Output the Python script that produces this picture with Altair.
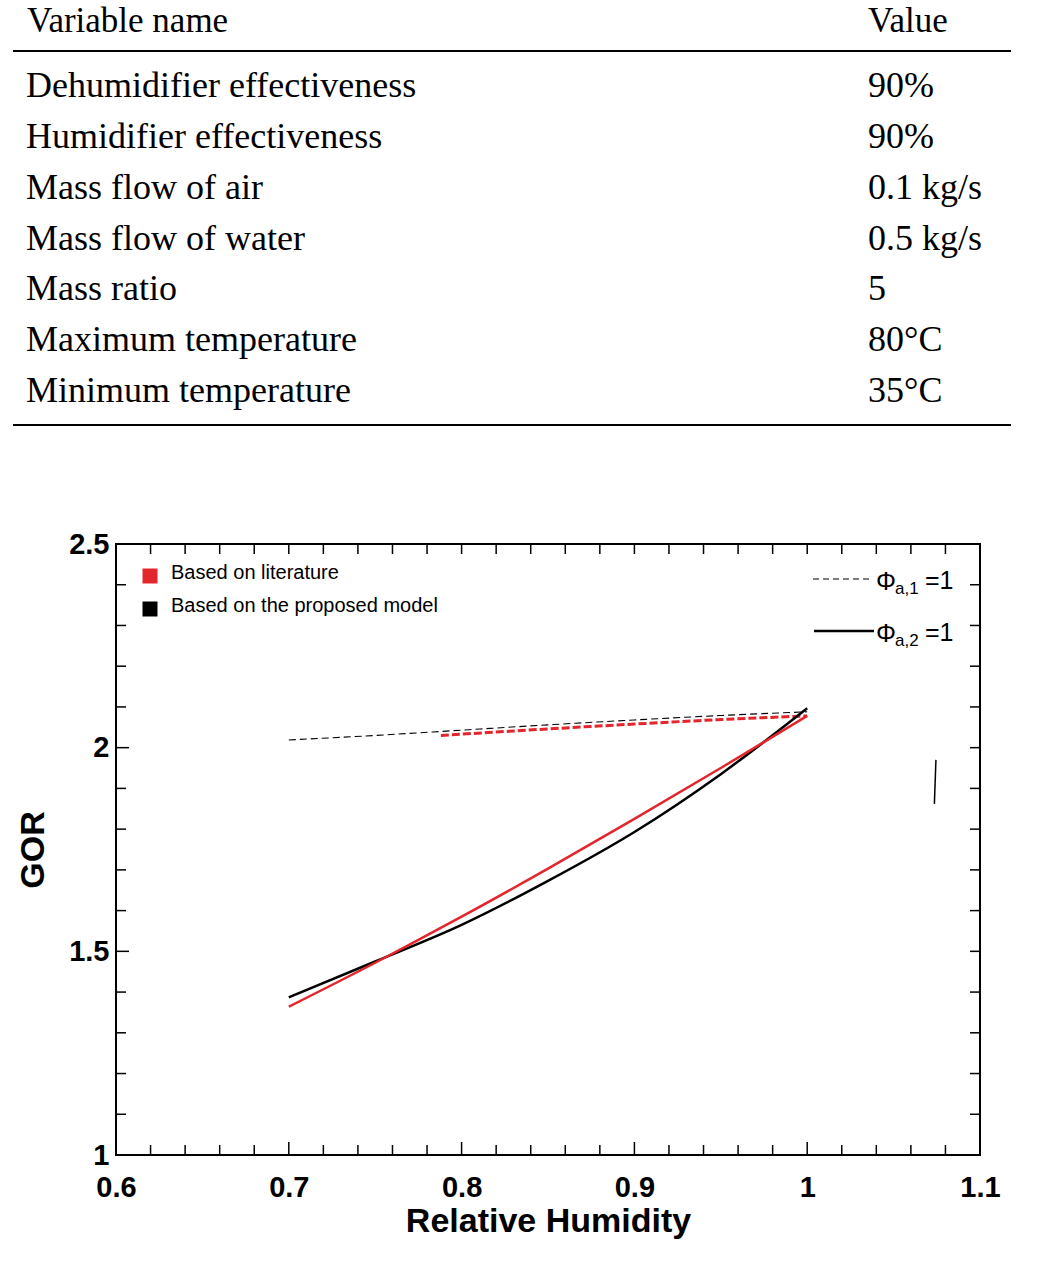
import altair as alt
import pandas as pd

# ---------------- table content ----------------
header_name = "Variable name"
header_value = "Value"
table_names = [
    "Dehumidifier effectiveness",
    "Humidifier effectiveness",
    "Mass flow of air",
    "Mass flow of water",
    "Mass ratio",
    "Maximum temperature",
    "Minimum temperature",
]
table_values = ["90%", "90%", "0.1 kg/s", "0.5 kg/s", "5", "80°C", "35°C"]

# ---------------- chart data ----------------
rh_model_dash = [0.70, 0.75, 0.80, 0.85, 0.90, 0.95, 1.00]
gor_model_dash = [2.019, 2.030, 2.043, 2.056, 2.068, 2.079, 2.088]

rh_lit_dash = [0.788, 0.85, 0.90, 0.95, 1.00]
gor_lit_dash = [2.030, 2.046, 2.058, 2.069, 2.078]

rh_solid = [0.70, 0.75, 0.80, 0.85, 0.90, 0.95, 1.00]
gor_model_solid = [1.387, 1.475, 1.565, 1.673, 1.793, 1.935, 2.097]
gor_lit_solid = [1.364, 1.472, 1.585, 1.703, 1.825, 1.950, 2.078]

rh_stray = [1.0745, 1.0736]
gor_stray = [1.970, 1.862]

x_major = [0.6, 0.7, 0.8, 0.9, 1.0, 1.1]
x_minor = [0.62, 0.64, 0.66, 0.68, 0.72, 0.74, 0.76, 0.78, 0.82, 0.84, 0.86, 0.88,
           0.92, 0.94, 0.96, 0.98, 1.02, 1.04, 1.06, 1.08]
y_major = [1.0, 1.5, 2.0, 2.5]
y_minor = [1.1, 1.2, 1.3, 1.4, 1.6, 1.7, 1.8, 1.9, 2.1, 2.2, 2.3, 2.4]

legend_left = ["Based on literature", "Based on the proposed model"]
RED = "#e3262c"
legend_colors = [RED, "#000000"]

W, H = 864, 611
SANS = "Liberation Sans"
SERIF = "Liberation Serif"

# ---------------- table (top panel) ----------------
one = alt.Data(values=[{}])
tdf = pd.DataFrame({"row": list(range(len(table_names))), "name": table_names, "value": table_values})
row_y = alt.Y("row:Q", scale=alt.Scale(domain=[0, 6], range=[97, 402]), axis=None)

t_names = alt.Chart(tdf).mark_text(font=SERIF, fontSize=36, align="left", baseline="alphabetic", color="black").encode(
    x=alt.value(-90), y=row_y, text="name:N")
t_values = alt.Chart(tdf).mark_text(font=SERIF, fontSize=36, align="left", baseline="alphabetic", color="black").encode(
    x=alt.value(752), y=row_y, text="value:N")
t_head1 = alt.Chart(one).mark_text(font=SERIF, fontSize=35, align="left", baseline="alphabetic", color="black", text=header_name).encode(
    x=alt.value(-89), y=alt.value(32))
t_head2 = alt.Chart(one).mark_text(font=SERIF, fontSize=35, align="left", baseline="alphabetic", color="black", text=header_value).encode(
    x=alt.value(752), y=alt.value(32))
t_rule1 = alt.Chart(one).mark_rule(color="black", strokeWidth=2).encode(
    x=alt.value(-103), x2=alt.value(895), y=alt.value(51))
t_rule2 = alt.Chart(one).mark_rule(color="black", strokeWidth=2).encode(
    x=alt.value(-103), x2=alt.value(895), y=alt.value(425))

top = alt.layer(t_rule1, t_rule2, t_head1, t_head2, t_names, t_values).properties(
    width=W, height=544, view=alt.ViewBackground(stroke="transparent", strokeWidth=0))

# ---------------- plot (bottom panel) ----------------
x_scale = alt.Scale(domain=[0.6, 1.1], nice=False, zero=False)
y_scale = alt.Scale(domain=[1.0, 2.5], nice=False, zero=False)

x_axis = alt.Axis(values=x_major, format="~g", ticks=False, domain=False, grid=False,
                  labelFont=SANS, labelFontWeight="bold", labelFontSize=29, labelColor="black",
                  labelPadding=18, labelFlush=False, labelOverlap=False,
                  title="Relative Humidity", titleFont=SANS, titleFontWeight="bold",
                  titleFontSize=34, titleColor="black", titlePadding=2)
y_axis = alt.Axis(values=y_major, format="~g", ticks=False, domain=False, grid=False,
                  labelFont=SANS, labelFontWeight="bold", labelFontSize=29, labelColor="black",
                  labelPadding=7, labelFlush=False, labelOverlap=False,
                  title="GOR", titleFont=SANS, titleFontWeight="bold",
                  titleFontSize=34, titleColor="black", titlePadding=18)

X = alt.X("rh:Q", scale=x_scale, axis=x_axis)
Y = alt.Y("gor:Q", scale=y_scale, axis=y_axis)


def xticks(vals, y1, y2):
    return alt.Chart(pd.DataFrame({"rh": vals})).mark_rule(color="black", strokeWidth=1.5).encode(
        x=X, y=alt.value(y1), y2=alt.value(y2))


def yticks(vals, x1, x2):
    return alt.Chart(pd.DataFrame({"gor": vals})).mark_rule(color="black", strokeWidth=1.5).encode(
        y=Y, x=alt.value(x1), x2=alt.value(x2))


tick_layers = [
    xticks(x_minor, H, H - 10), xticks(x_major, H, H - 13),
    xticks(x_minor + x_major, 0, 10),
    yticks(y_minor, 0, 10), yticks(y_major, 0, 13),
    yticks(y_minor + y_major, W, W - 10),
]


def line(rh, gor, color, width, dash=None):
    kw = dict(color=color, strokeWidth=width, interpolate="monotone")
    if dash:
        kw["strokeDash"] = dash
    return alt.Chart(pd.DataFrame({"rh": rh, "gor": gor})).mark_line(**kw).encode(x=X, y=Y)


series = [
    line(rh_model_dash, gor_model_dash, "black", 1.1, [7, 4]),
    line(rh_lit_dash, gor_lit_dash, RED, 3, [8, 3]),
    line(rh_solid, gor_model_solid, "black", 2.5),
    line(rh_solid, gor_lit_solid, RED, 2.5),
    line(rh_stray, gor_stray, "black", 1.5),
]

# legend (left): fixed positions, no shared scales
legend_marks = []
for lab, col, sy, ty in zip(legend_left, legend_colors, [32, 65], [29, 62]):
    legend_marks.append(alt.Chart(one).mark_square(size=225, opacity=1, filled=True, color=col).encode(
        x=alt.value(34), y=alt.value(sy)))
    legend_marks.append(alt.Chart(one).mark_text(font=SANS, fontSize=20, align="left", baseline="middle",
                                                 color="black", text=lab).encode(
        x=alt.value(55), y=alt.value(ty)))

# legend (right)
r_line1 = alt.Chart(one).mark_rule(color="black", strokeWidth=1.1, strokeDash=[6, 4]).encode(
    x=alt.value(697), x2=alt.value(757), y=alt.value(35))
r_line2 = alt.Chart(one).mark_rule(color="black", strokeWidth=2.5).encode(
    x=alt.value(698), x2=alt.value(758), y=alt.value(87))


def rtext(txt, x, y, size):
    return alt.Chart(one).mark_text(font=SANS, fontSize=size, align="left", baseline="middle", color="black", text=txt).encode(
        x=alt.value(x), y=alt.value(y))


r_texts = [
    rtext("Φ", 760, 38, 25), rtext("a,1", 779, 45, 17), rtext("=1", 809, 37, 25),
    rtext("Φ", 760, 90, 25), rtext("a,2", 779, 97, 17), rtext("=1", 809, 89, 25),
]

bottom = alt.layer(*tick_layers, *series, *legend_marks, r_line1, r_line2, *r_texts).properties(
    width=W, height=H, view=alt.ViewBackground(stroke="black", strokeWidth=2))

chart = alt.vconcat(top, bottom, spacing=0, bounds="flush").properties(
    padding={"left": 12, "top": 0, "right": 0, "bottom": 0}
).configure_view(stroke="transparent").configure(background="white")

chart.save("out.html", embed_options={"renderer": "svg", "actions": False})
